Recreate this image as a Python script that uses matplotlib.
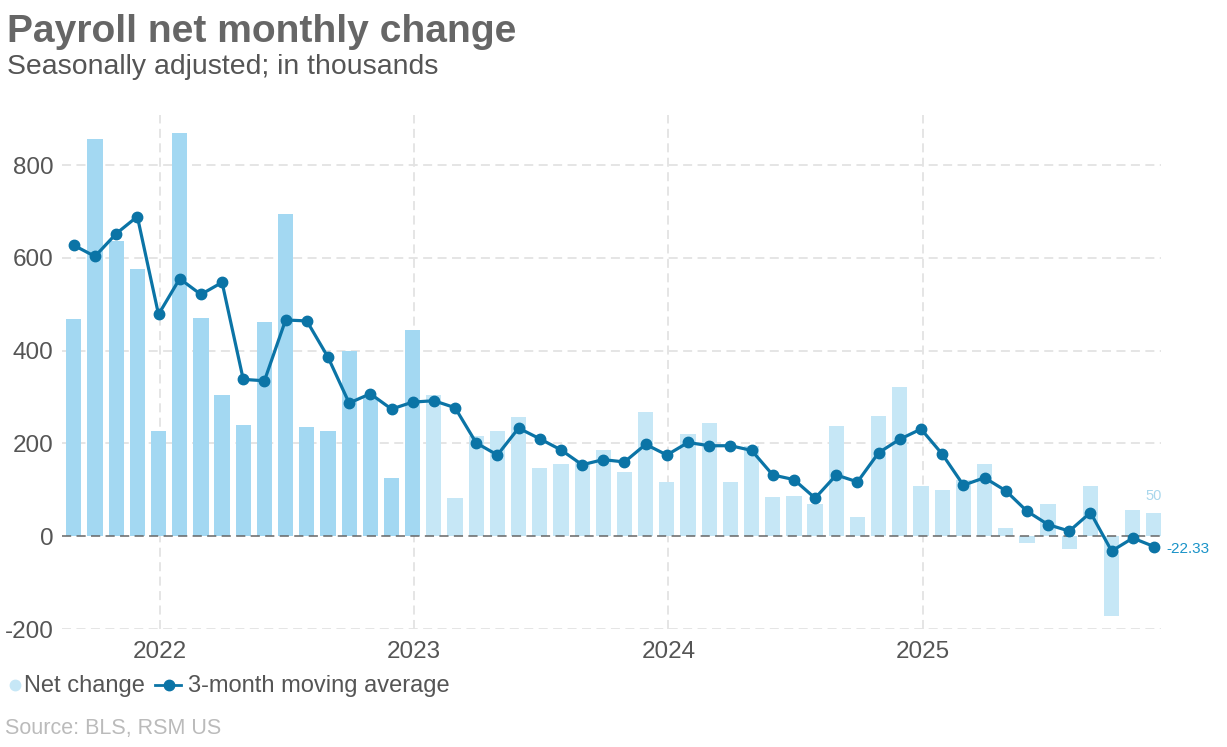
import matplotlib
matplotlib.use("Agg")
import matplotlib.pyplot as plt
from matplotlib.lines import Line2D

plt.rcParams['font.family'] = ['Liberation Sans', 'DejaVu Sans']

# ---- data (thousands), Sep 2021 .. Dec 2025 ----
months = [f"{y}-{m:02d}" for y in range(2021, 2026) for m in range(1, 13)][8:]
net_change = [468, 856, 636, 576, 226, 868, 471, 305, 240, 461, 695, 236, 227, 400, 298, 125, 444,
              304, 83, 215, 226, 256, 147, 156, 159, 185, 139, 267, 117, 221, 244, 116, 195, 85, 86, 69,
              238, 42, 259, 321, 109, 100, 121, 156, 17, -14, 70, -27, 108, -173, 56, 50]
moving_avg = [627, 603, 652, 689, 478, 555, 521, 547, 338, 335, 466, 464, 386, 287, 307, 274, 289,
              292, 277, 201, 175, 233, 210, 186, 154, 165, 160, 198, 175, 202, 195, 195, 185, 132, 122, 82,
              132, 117, 180, 209, 231, 177, 110, 126, 98, 54, 25, 11, 51, -32, -4, -22.33]
highlight_until = "2023-01"   # bars up to this month drawn in the darker tint
year_labels = ["2022", "2023", "2024", "2025"]
y_ticks = [-200, 0, 200, 400, 600, 800]

DARK_BAR = '#a3d8f2'
LIGHT_BAR = '#c6e7f6'
LINE_C = '#0b74a6'

W, H = 1227, 747
fig = plt.figure(figsize=(W / 100, H / 100), dpi=100)
ax = fig.add_axes([62 / W, 1 - 629 / H, (1161 - 62) / W, (629 - 115) / H])

x = list(range(len(months)))
cut = months.index(highlight_until)
colors = [DARK_BAR if i <= cut else LIGHT_BAR for i in x]
ax.bar(x, net_change, width=0.72, color=colors, zorder=2, linewidth=0)
ax.plot(x, moving_avg, color=LINE_C, lw=2.3, marker='o', markersize=7.5, zorder=4)

ax.set_xlim(-0.557, 51.33)
ax.set_ylim(-200, 907.8)

# grid
for t in y_ticks:
    if t == 0:
        ax.axhline(0, color='#666666', lw=1.1, ls=(0, (6, 3.5)), zorder=3)
    else:
        ax.axhline(t, color='#e3e3e3', lw=1.3, ls=(0, (5, 3)), zorder=1)
year_pos = [months.index(f"{y}-01") for y in year_labels]
for p in year_pos:
    ax.axvline(p + 0.07, color='#e3e3e3', lw=1.3, ls=(0, (5, 3)), zorder=1)

ax.set_yticks(y_ticks)
ax.set_yticklabels([str(t) for t in y_ticks])
ax.set_xticks([p + 0.07 for p in year_pos])
ax.set_xticklabels(year_labels)
ax.tick_params(axis='y', length=0, pad=6, labelsize=17.5, labelcolor='#555555')
ax.tick_params(axis='x', length=0, pad=9, labelsize=17.5, labelcolor='#555555')
for s in ax.spines.values():
    s.set_visible(False)

# end annotations
ax.annotate(f"{net_change[-1]:g}", (x[-1], net_change[-1]), xytext=(0, 7), textcoords='offset points',
            ha='center', va='bottom', fontsize=10.5, color='#a9d7ec')
ax.annotate(f"{moving_avg[-1]:.2f}", (x[-1], moving_avg[-1]), xytext=(9, -2), textcoords='offset points',
            ha='left', va='center', fontsize=11, color='#1a93c8')

# titles
fig.text(7 / W, 1 - 42 / H, "Payroll net monthly change", fontsize=28.1, fontweight='bold',
         color='#666666', ha='left', va='baseline')
fig.text(7 / W, 1 - 74 / H, "Seasonally adjusted; in thousands", fontsize=20.4,
         color='#555555', ha='left', va='baseline')

# legend
ly = 1 - 685 / H
fig.add_artist(Line2D([15 / W], [ly], transform=fig.transFigure, marker='o', markersize=7.5,
                      color=LIGHT_BAR, linestyle='none'))
fig.text(24 / W, 1 - 692 / H, "Net change", fontsize=17, color='#555555', ha='left', va='baseline')
fig.add_artist(Line2D([155 / W, 181 / W], [ly, ly], transform=fig.transFigure, color=LINE_C, lw=2))
fig.add_artist(Line2D([169 / W], [ly], transform=fig.transFigure, marker='o', markersize=7.5,
                      color=LINE_C, linestyle='none'))
fig.text(188 / W, 1 - 692 / H, "3-month moving average", fontsize=17, color='#555555',
         ha='left', va='baseline')

fig.text(5 / W, 1 - 734 / H, "Source: BLS, RSM US", fontsize=15.5, color='#bbbbbb',
         ha='left', va='baseline')

fig.savefig("out.png", dpi=100)
